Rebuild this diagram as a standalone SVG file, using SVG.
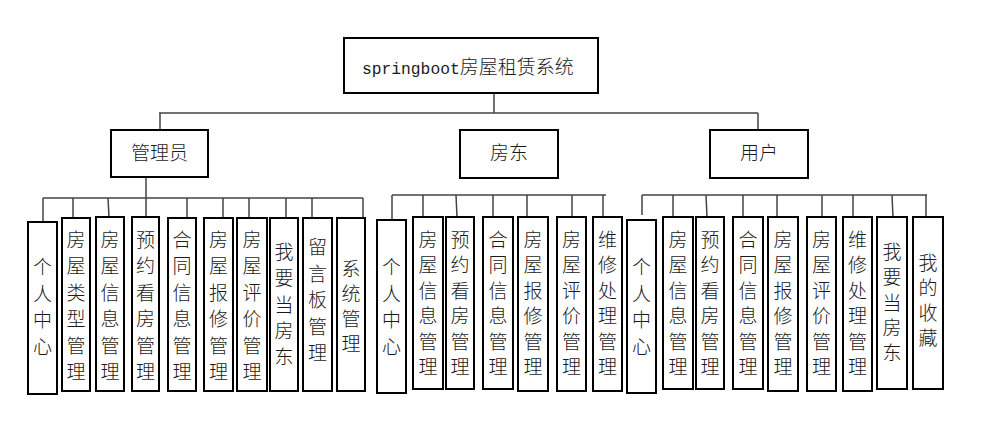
<svg xmlns="http://www.w3.org/2000/svg" width="986" height="438" viewBox="0 0 986 438">
<style>
.box{fill:#fff;stroke:#000;stroke-width:2}
.ln{fill:none;stroke:#444;stroke-width:1.5}
.t{font-family:"Noto Sans CJK SC","Noto Sans CJK JP",sans-serif;font-size:19px;font-weight:300;fill:#1a1a1a;text-anchor:middle}
.tl{font-family:"Liberation Mono","Noto Sans CJK SC",monospace;font-size:16.3px;fill:#1a1a1a}
</style>
<rect width="986" height="438" fill="#fff"/>
<g id="connectors">
<path class="ln" d="M494 93V113M159 113H758M160 113V130M758 113V130"/>
<path class="ln" d="M146 178V217M43 198H363M43 198V222M73 198V218M108 198L109 217M187 198V218M223 198V218M249 198V218M286 198V218M312 198V218M363 198V218"/>
<path class="ln" d="M392 195H606M392 195V220M423 195V217M456 195L457 217M493 195V217M527 195V217M572 195V217M603 195V217"/>
<path class="ln" d="M642 195H927M642 195V215M673 195V217M706 195L707 217M743 195V217M777 195V217M822 195V217M853 195V217M892 195L893 217M926 195V217"/>
</g>
<g id="root"><rect class="box" x="344" y="38" width="254" height="55"/>
<text x="362" y="74"><tspan class="tl">springboot</tspan><tspan class="t" style="text-anchor:start" font-size="19.5">房屋租赁系统</tspan></text></g>
<g id="admin"><rect class="box" x="111" y="130" width="97" height="47"/><text class="t" x="159.5" y="160">管理员</text></g>
<g id="landlord"><rect class="box" x="460" y="130" width="98" height="48"/><text class="t" x="509" y="160">房东</text></g>
<g id="user"><rect class="box" x="710" y="130" width="98" height="48"/><text class="t" x="759" y="160">用户</text></g>

<g id="a1"><rect class="box" x="28" y="222" width="29" height="172"/><text class="t"><tspan x="42.5" y="274">个</tspan><tspan x="42.5" y="300.7">人</tspan><tspan x="42.5" y="327.3">中</tspan><tspan x="42.5" y="354">心</tspan></text></g>
<g id="a2"><rect class="box" x="62" y="218" width="28" height="173"/><text class="t"><tspan x="76" y="247">房</tspan><tspan x="76" y="273.4">屋</tspan><tspan x="76" y="299.8">类</tspan><tspan x="76" y="326.2">型</tspan><tspan x="76" y="352.6">管</tspan><tspan x="76" y="379">理</tspan></text></g>
<g id="a3"><rect class="box" x="96" y="217" width="28" height="174"/><text class="t"><tspan x="110" y="247">房</tspan><tspan x="110" y="273.4">屋</tspan><tspan x="110" y="299.8">信</tspan><tspan x="110" y="326.2">息</tspan><tspan x="110" y="352.6">管</tspan><tspan x="110" y="379">理</tspan></text></g>
<g id="a4"><rect class="box" x="132" y="217" width="27" height="174"/><text class="t"><tspan x="145.5" y="247">预</tspan><tspan x="145.5" y="273.4">约</tspan><tspan x="145.5" y="299.8">看</tspan><tspan x="145.5" y="326.2">房</tspan><tspan x="145.5" y="352.6">管</tspan><tspan x="145.5" y="379">理</tspan></text></g>
<g id="a5"><rect class="box" x="168" y="218" width="28" height="173"/><text class="t"><tspan x="182" y="247">合</tspan><tspan x="182" y="273.4">同</tspan><tspan x="182" y="299.8">信</tspan><tspan x="182" y="326.2">息</tspan><tspan x="182" y="352.6">管</tspan><tspan x="182" y="379">理</tspan></text></g>
<g id="a6"><rect class="box" x="204" y="218" width="29" height="173"/><text class="t"><tspan x="218.5" y="247">房</tspan><tspan x="218.5" y="273.4">屋</tspan><tspan x="218.5" y="299.8">报</tspan><tspan x="218.5" y="326.2">修</tspan><tspan x="218.5" y="352.6">管</tspan><tspan x="218.5" y="379">理</tspan></text></g>
<g id="a7"><rect class="box" x="237" y="218" width="30" height="173"/><text class="t"><tspan x="252" y="247">房</tspan><tspan x="252" y="273.4">屋</tspan><tspan x="252" y="299.8">评</tspan><tspan x="252" y="326.2">价</tspan><tspan x="252" y="352.6">管</tspan><tspan x="252" y="379">理</tspan></text></g>
<g id="a8"><rect class="box" x="270" y="218" width="28" height="173"/><text class="t"><tspan x="284" y="259">我</tspan><tspan x="284" y="285.3">要</tspan><tspan x="284" y="311.5">当</tspan><tspan x="284" y="337.8">房</tspan><tspan x="284" y="364">东</tspan></text></g>
<g id="a9"><rect class="box" x="303" y="218" width="29" height="173"/><text class="t"><tspan x="317.5" y="254">留</tspan><tspan x="317.5" y="280.5">言</tspan><tspan x="317.5" y="307">板</tspan><tspan x="317.5" y="333.5">管</tspan><tspan x="317.5" y="360">理</tspan></text></g>
<g id="a10"><rect class="box" x="337" y="218" width="28" height="173"/><text class="t"><tspan x="351" y="276">系</tspan><tspan x="351" y="301">统</tspan><tspan x="351" y="326">管</tspan><tspan x="351" y="351">理</tspan></text></g>

<g id="l1"><rect class="box" x="377" y="220" width="29" height="173"/><text class="t"><tspan x="391.5" y="274">个</tspan><tspan x="391.5" y="300.7">人</tspan><tspan x="391.5" y="327.3">中</tspan><tspan x="391.5" y="354">心</tspan></text></g>
<g id="l2"><rect class="box" x="413" y="217" width="30" height="172"/><text class="t"><tspan x="428" y="247">房</tspan><tspan x="428" y="272.4">屋</tspan><tspan x="428" y="297.8">信</tspan><tspan x="428" y="323.2">息</tspan><tspan x="428" y="348.6">管</tspan><tspan x="428" y="374">理</tspan></text></g>
<g id="l3"><rect class="box" x="446" y="217" width="28" height="172"/><text class="t"><tspan x="460" y="247">预</tspan><tspan x="460" y="272.4">约</tspan><tspan x="460" y="297.8">看</tspan><tspan x="460" y="323.2">房</tspan><tspan x="460" y="348.6">管</tspan><tspan x="460" y="374">理</tspan></text></g>
<g id="l4"><rect class="box" x="483" y="217" width="30" height="172"/><text class="t"><tspan x="498" y="247">合</tspan><tspan x="498" y="272.4">同</tspan><tspan x="498" y="297.8">信</tspan><tspan x="498" y="323.2">息</tspan><tspan x="498" y="348.6">管</tspan><tspan x="498" y="374">理</tspan></text></g>
<g id="l5"><rect class="box" x="518" y="217" width="30" height="174"/><text class="t"><tspan x="533" y="247">房</tspan><tspan x="533" y="272.4">屋</tspan><tspan x="533" y="297.8">报</tspan><tspan x="533" y="323.2">修</tspan><tspan x="533" y="348.6">管</tspan><tspan x="533" y="374">理</tspan></text></g>
<g id="l6"><rect class="box" x="557" y="217" width="29" height="174"/><text class="t"><tspan x="571.5" y="247">房</tspan><tspan x="571.5" y="272.4">屋</tspan><tspan x="571.5" y="297.8">评</tspan><tspan x="571.5" y="323.2">价</tspan><tspan x="571.5" y="348.6">管</tspan><tspan x="571.5" y="374">理</tspan></text></g>
<g id="l7"><rect class="box" x="593" y="217" width="29" height="174"/><text class="t"><tspan x="607.5" y="247">维</tspan><tspan x="607.5" y="272.4">修</tspan><tspan x="607.5" y="297.8">处</tspan><tspan x="607.5" y="323.2">理</tspan><tspan x="607.5" y="348.6">管</tspan><tspan x="607.5" y="374">理</tspan></text></g>

<g id="u1"><rect class="box" x="627" y="220" width="29" height="173"/><text class="t"><tspan x="641.5" y="274">个</tspan><tspan x="641.5" y="300.7">人</tspan><tspan x="641.5" y="327.3">中</tspan><tspan x="641.5" y="354">心</tspan></text></g>
<g id="u2"><rect class="box" x="663" y="217" width="30" height="172"/><text class="t"><tspan x="678" y="247">房</tspan><tspan x="678" y="272.4">屋</tspan><tspan x="678" y="297.8">信</tspan><tspan x="678" y="323.2">息</tspan><tspan x="678" y="348.6">管</tspan><tspan x="678" y="374">理</tspan></text></g>
<g id="u3"><rect class="box" x="696" y="217" width="28" height="172"/><text class="t"><tspan x="710" y="247">预</tspan><tspan x="710" y="272.4">约</tspan><tspan x="710" y="297.8">看</tspan><tspan x="710" y="323.2">房</tspan><tspan x="710" y="348.6">管</tspan><tspan x="710" y="374">理</tspan></text></g>
<g id="u4"><rect class="box" x="733" y="217" width="30" height="172"/><text class="t"><tspan x="748" y="247">合</tspan><tspan x="748" y="272.4">同</tspan><tspan x="748" y="297.8">信</tspan><tspan x="748" y="323.2">息</tspan><tspan x="748" y="348.6">管</tspan><tspan x="748" y="374">理</tspan></text></g>
<g id="u5"><rect class="box" x="768" y="217" width="30" height="174"/><text class="t"><tspan x="783" y="247">房</tspan><tspan x="783" y="272.4">屋</tspan><tspan x="783" y="297.8">报</tspan><tspan x="783" y="323.2">修</tspan><tspan x="783" y="348.6">管</tspan><tspan x="783" y="374">理</tspan></text></g>
<g id="u6"><rect class="box" x="807" y="217" width="29" height="174"/><text class="t"><tspan x="821.5" y="247">房</tspan><tspan x="821.5" y="272.4">屋</tspan><tspan x="821.5" y="297.8">评</tspan><tspan x="821.5" y="323.2">价</tspan><tspan x="821.5" y="348.6">管</tspan><tspan x="821.5" y="374">理</tspan></text></g>
<g id="u7"><rect class="box" x="843" y="217" width="29" height="174"/><text class="t"><tspan x="857.5" y="247">维</tspan><tspan x="857.5" y="272.4">修</tspan><tspan x="857.5" y="297.8">处</tspan><tspan x="857.5" y="323.2">理</tspan><tspan x="857.5" y="348.6">管</tspan><tspan x="857.5" y="374">理</tspan></text></g>
<g id="u8"><rect class="box" x="877" y="217" width="30" height="172"/><text class="t"><tspan x="892" y="259">我</tspan><tspan x="892" y="284.3">要</tspan><tspan x="892" y="309.5">当</tspan><tspan x="892" y="334.8">房</tspan><tspan x="892" y="360">东</tspan></text></g>
<g id="u9"><rect class="box" x="913" y="217" width="30" height="172"/><text class="t"><tspan x="928" y="270">我</tspan><tspan x="928" y="295">的</tspan><tspan x="928" y="320">收</tspan><tspan x="928" y="345">藏</tspan></text></g>
</svg>
